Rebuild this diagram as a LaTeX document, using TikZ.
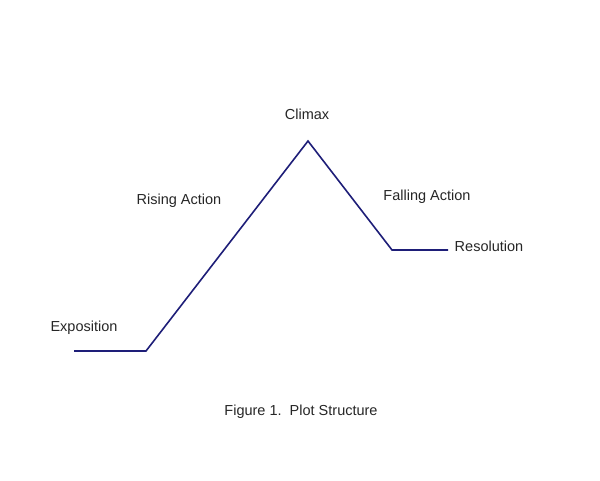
\documentclass[tikz,border=0pt]{standalone}
\usepackage{fontspec}
\setmainfont{Liberation Sans}
\definecolor{plotblue}{RGB}{30,30,120}
\begin{document}
\begin{tikzpicture}[x=1pt,y=-1pt,every node/.style={font=\fontsize{14.5}{17}\selectfont,text=black!85,inner sep=0pt},plotline/.style={draw=plotblue,line width=1.6pt,line join=miter}]
            \useasboundingbox (0,0) rectangle (600,480);
            \coordinate (s) at (74,351);
            \coordinate (r) at (146,351);
            \coordinate (c) at (308,141);
            \coordinate (f) at (392,250);
            \coordinate (e) at (448,250);
            \node (expo) at (84,328) {Exposition};
            \node (rise) at (179,201) {Rising Action};
            \node (clim) at (307,114) {Climax};
            \node (fall) at (427,197) {Falling Action};
            \node (reso) at (489,246) {Resolution};
            \node (cap) at (301,412) {Figure 1.\ \ Plot Structure};
            \path[plotline] (s) -- (r) -- (c) -- (f) -- (e);
        \end{tikzpicture}
\end{document}
